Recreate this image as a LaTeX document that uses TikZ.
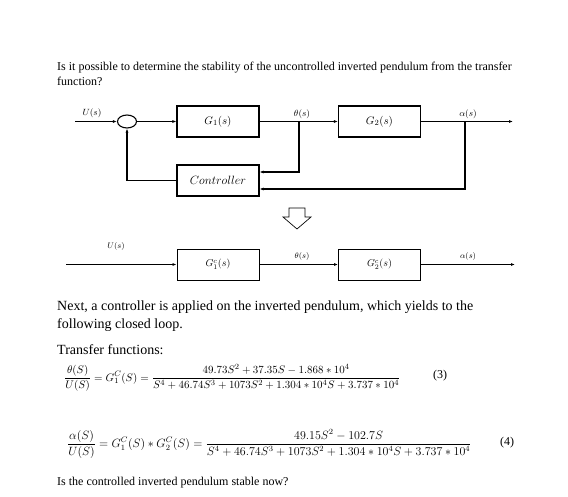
\documentclass[tikz,border=0pt]{standalone}
\usepackage{fontspec}
\setmainfont{Liberation Serif}
\usetikzlibrary{shapes.geometric,arrows.meta}
\begin{document}
\begin{tikzpicture}[x=1pt,y=-1pt,
  blk/.style={draw,line width=1.1pt,minimum width=82pt,minimum height=31pt,inner sep=0},
  blkb/.style={draw,line width=0.9pt,minimum width=82pt,minimum height=31pt,inner sep=0},
  ln/.style={line width=1.1pt},
  lnb/.style={line width=0.8pt},
  arr/.style={-{Latex[length=4pt,width=3pt]}},
  lbl/.style={font=\fontsize{9.5}{10}\selectfont,inner sep=0},
  lblb/.style={font=\fontsize{8.5}{9}\selectfont,inner sep=0},
  body/.style={anchor=base west,inner sep=0,font=\fontsize{12}{14}\selectfont},
  bigbody/.style={anchor=base west,inner sep=0,font=\fontsize{14}{16}\selectfont},
  eqn/.style={anchor=west,inner sep=0}
]
\useasboundingbox (0,0) rectangle (568,497);

% top text
\node[body] (t1) at (57,71) {Is it possible to determine the stability of the uncontrolled inverted pendulum from the transfer};
\node[body] (t2) at (57,86) {function?};

% diagram 1
\coordinate (in1) at (75,121.5);
\node[draw,ellipse,ln,minimum width=19pt,minimum height=13pt,inner sep=0] (sum) at (127,121.5) {};
\node[blk] (g1) at (218,121.5) {\fontsize{11}{12}\selectfont$G_1(s)$};
\node[blk] (g2) at (379.5,121.5) {\fontsize{11}{12}\selectfont$G_2(s)$};
\node[blk] (ctrl) at (218,180.5) {\fontsize{11.5}{12}\selectfont$Controller$};
\coordinate (tapth) at (299,121.5);
\coordinate (tapal) at (465,121.5);
\coordinate (out1) at (513,121.5);
\node[lbl] (lu1) at (92,113) {$U(s)$};
\node[lbl] (lth1) at (302,114) {$\theta(s)$};
\node[lbl] (lal1) at (468,114) {$\alpha(s)$};

\draw[ln,arr] (in1) -- (sum);
\draw[ln,arr] (sum) -- (g1);
\draw[ln,arr] (g1) -- (g2);
\draw[ln,arr] (g2) -- (out1);
\draw[ln,arr] (tapth) |- ([yshift=8.5pt]ctrl.east);
\draw[ln,arr] (tapal) |- ([yshift=-8.5pt]ctrl.east);
\draw[ln,arr] (ctrl.west) -| (sum.south);

% down arrow
\draw[line width=0.7pt] (289,208) -- (305,208) -- (305,217) -- (311,217) -- (297,229) -- (283,217) -- (289,217) -- cycle;

% diagram 2
\coordinate (in2) at (66,264.5);
\node[blkb] (g1c) at (218,264.5) {\fontsize{10}{11}\selectfont$G_1^c(s)$};
\node[blkb] (g2c) at (379.5,264.5) {\fontsize{10}{11}\selectfont$G_2^c(s)$};
\coordinate (out2) at (515,264.5);
\node[lblb] (lu2) at (116,247) {$U(s)$};
\node[lblb] (lth2) at (302,257) {$\theta(s)$};
\node[lblb] (lal2) at (468,257) {$\alpha(s)$};
\draw[lnb,arr] (in2) -- (g1c);
\draw[lnb,arr] (g1c) -- (g2c);
\draw[lnb,arr] (g2c) -- (out2);

% lower text
\node[bigbody] (t3) at (57,311) {Next, a controller is applied on the inverted pendulum, which yields to the};
\node[bigbody] (t4) at (57,328) {following closed loop.};
\node[bigbody] (t5) at (57,354) {Transfer functions:};

\node[eqn,font=\fontsize{11}{13}\selectfont] (eq3) at (64,378) {$\displaystyle\frac{\theta(S)}{U(S)} = G_1^C(S) = \frac{49.73S^2+37.35S-1.868*10^4}{S^4+46.74S^3+1073S^2+1.304*10^4S+3.737*10^4}$};
\node[inner sep=0,font=\fontsize{12}{13}\selectfont] (n3) at (440,376) {(3)};

\node[eqn,font=\fontsize{11.7}{14}\selectfont] (eq4) at (67,444) {$\displaystyle\frac{\alpha(S)}{U(S)} = G_1^C(S) * G_2^C(S) = \frac{49.15S^2-102.7S}{S^4+46.74S^3+1073S^2+1.304*10^4S+3.737*10^4}$};
\node[inner sep=0,font=\fontsize{12}{13}\selectfont] (n4) at (507,443) {(4)};

\node[body] (t6) at (57,485) {Is the controlled inverted pendulum stable now?};
\end{tikzpicture}
\end{document}
